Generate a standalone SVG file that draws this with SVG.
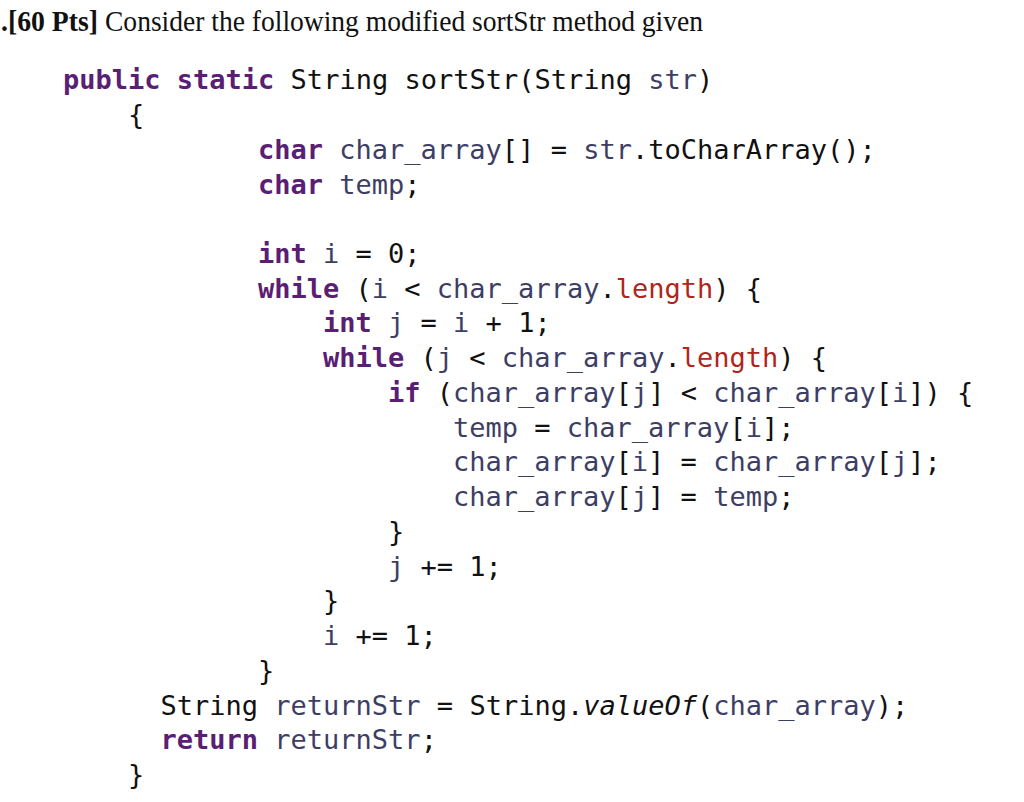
<svg xmlns="http://www.w3.org/2000/svg" width="1024" height="802" viewBox="0 0 1024 802">
<style>
.t{font-family:"Liberation Serif","Times New Roman",serif;font-size:30px;fill:#111}
.c{font-family:"DejaVu Sans Mono","Liberation Mono",monospace;font-size:27px;fill:#111}
.k{fill:#5a1e74;font-weight:bold}
.i{fill:#3d3e64}
.r{fill:#b0251a}
.it{font-style:italic}
</style>
<rect width="1024" height="802" fill="#fff"/>
<g id="title">
<text class="t" x="1" y="31" font-weight="bold" textLength="97" lengthAdjust="spacingAndGlyphs">.[60 Pts]</text>
<text class="t" x="105" y="31" textLength="598" lengthAdjust="spacingAndGlyphs">Consider the following modified sortStr method given</text>
</g>
<g id="code" xml:space="preserve">
<text class="c" x="63" y="89"><tspan class="k">public</tspan> <tspan class="k">static</tspan> String sortStr(String <tspan class="i">str</tspan>)</text>
<text class="c" x="128" y="124">{</text>
<text class="c" x="258" y="159"><tspan class="k">char</tspan> <tspan class="i">char_array</tspan>[] = <tspan class="i">str</tspan>.toCharArray();</text>
<text class="c" x="258" y="194"><tspan class="k">char</tspan> <tspan class="i">temp</tspan>;</text>
<text class="c" x="258" y="263"><tspan class="k">int</tspan> <tspan class="i">i</tspan> = 0;</text>
<text class="c" x="258" y="298"><tspan class="k">while</tspan> (<tspan class="i">i</tspan> &lt; <tspan class="i">char_array</tspan>.<tspan class="r">length</tspan>) {</text>
<text class="c" x="323" y="332"><tspan class="k">int</tspan> <tspan class="i">j</tspan> = <tspan class="i">i</tspan> + 1;</text>
<text class="c" x="323" y="367"><tspan class="k">while</tspan> (<tspan class="i">j</tspan> &lt; <tspan class="i">char_array</tspan>.<tspan class="r">length</tspan>) {</text>
<text class="c" x="388" y="402"><tspan class="k">if</tspan> (<tspan class="i">char_array</tspan>[<tspan class="i">j</tspan>] &lt; <tspan class="i">char_array</tspan>[<tspan class="i">i</tspan>]) {</text>
<text class="c" x="453" y="437"><tspan class="i">temp</tspan> = <tspan class="i">char_array</tspan>[<tspan class="i">i</tspan>];</text>
<text class="c" x="453" y="471"><tspan class="i">char_array</tspan>[<tspan class="i">i</tspan>] = <tspan class="i">char_array</tspan>[<tspan class="i">j</tspan>];</text>
<text class="c" x="453" y="506"><tspan class="i">char_array</tspan>[<tspan class="i">j</tspan>] = <tspan class="i">temp</tspan>;</text>
<text class="c" x="388" y="541">}</text>
<text class="c" x="388" y="576"><tspan class="i">j</tspan> += 1;</text>
<text class="c" x="323" y="610">}</text>
<text class="c" x="323" y="645"><tspan class="i">i</tspan> += 1;</text>
<text class="c" x="258" y="680">}</text>
<text class="c" x="160.5" y="715">String <tspan class="i">returnStr</tspan> = String.<tspan class="it">valueOf</tspan>(<tspan class="i">char_array</tspan>);</text>
<text class="c" x="160.5" y="749"><tspan class="k">return</tspan> <tspan class="i">returnStr</tspan>;</text>
<text class="c" x="128" y="784">}</text>
</g>
</svg>
